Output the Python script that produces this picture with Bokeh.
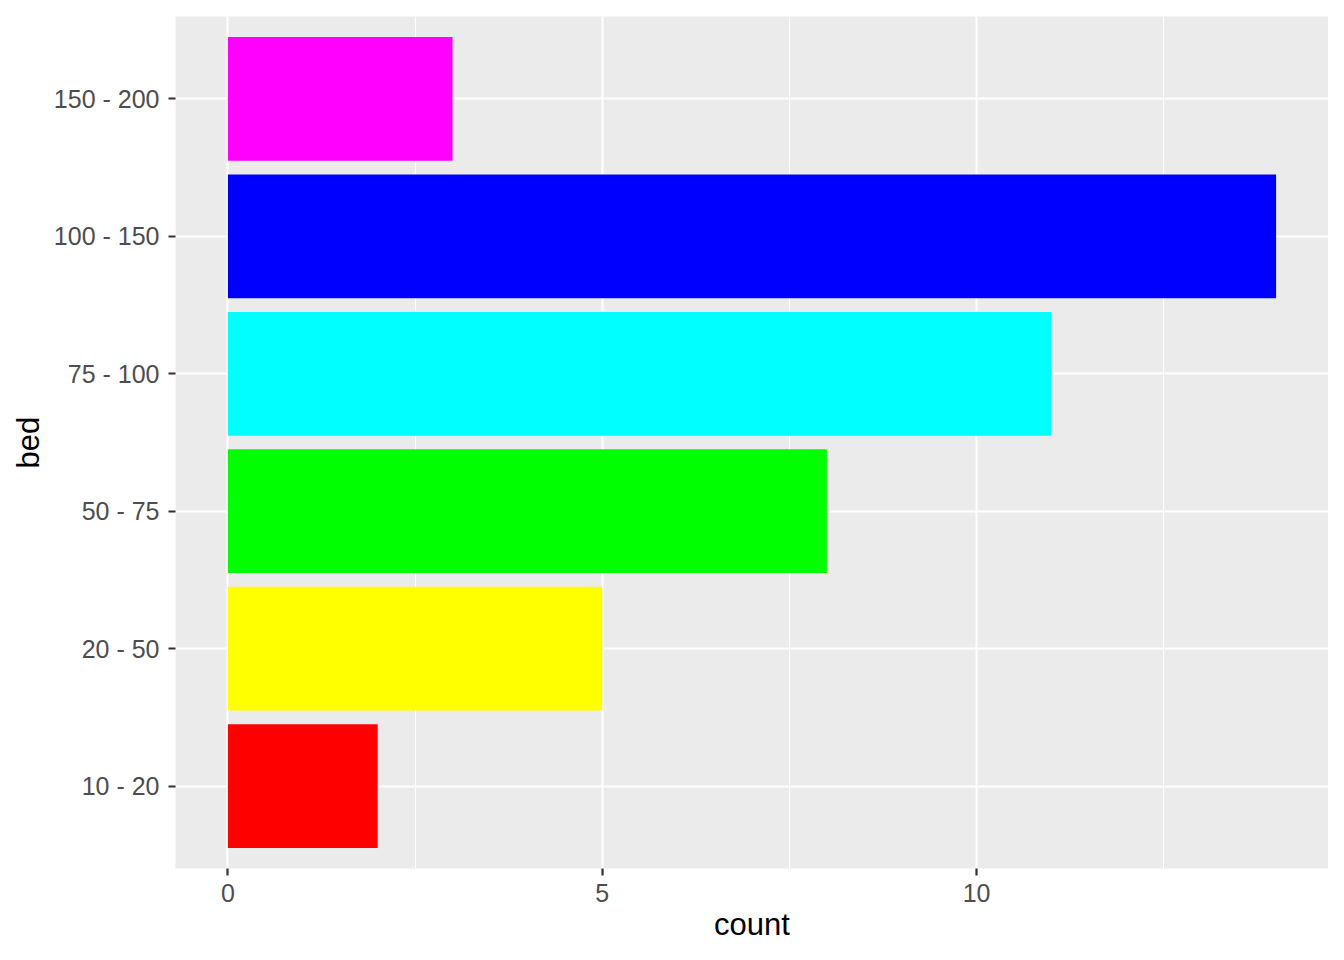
from bokeh.plotting import figure
from bokeh.models import Range1d, FixedTicker, SingleIntervalTicker, ColumnDataSource
from bokeh.embed import file_html
from bokeh.resources import INLINE

categories = ["10 - 20", "20 - 50", "50 - 75", "75 - 100", "100 - 150", "150 - 200"]
counts = [2, 5, 8, 11, 14, 3]
colors = ["#FF0000", "#FFFF00", "#00FF00", "#00FFFF", "#0000FF", "#FF00FF"]

pos = list(range(1, len(categories) + 1))
src = ColumnDataSource(dict(y=pos, right=counts, color=colors, cat=categories))

xmax = max(counts)
p = figure(width=1328, height=944, output_backend="svg", toolbar_location=None,
           x_range=Range1d(-0.05 * xmax, xmax * 1.05),
           y_range=Range1d(0.4, len(categories) + 0.6),
           min_border_left=175, min_border_right=0, min_border_top=16, min_border_bottom=76)

p.hbar(y="y", left=0, right="right", height=0.9, fill_color="color", line_color=None, source=src)

p.background_fill_color = "#EBEBEB"
p.border_fill_color = "white"
p.outline_line_color = None

p.xaxis.ticker = SingleIntervalTicker(interval=5, num_minor_ticks=2)
p.yaxis.ticker = FixedTicker(ticks=pos)
p.yaxis.major_label_overrides = {i: c for i, c in zip(pos, categories)}

for ax in (p.xaxis[0], p.yaxis[0]):
    ax.axis_line_color = None
    ax.major_tick_line_color = "#333333"
    ax.major_tick_line_width = 2.2
    ax.major_tick_out = 7
    ax.major_tick_in = 0
    ax.minor_tick_line_color = None
    ax.major_label_text_color = "#4D4D4D"
    ax.major_label_text_font = "Liberation Sans"
    ax.major_label_text_font_size = "25px"
    ax.axis_label_text_font = "Liberation Sans"
    ax.axis_label_text_font_size = "31px"
    ax.axis_label_text_font_style = "normal"
    ax.axis_label_text_color = "black"

p.xaxis.axis_label = "count"
p.yaxis.axis_label = "bed"
p.xaxis.major_label_standoff = 8
p.yaxis.major_label_standoff = 9
p.xaxis.axis_label_standoff = 2
p.yaxis.axis_label_standoff = 5

p.xgrid.grid_line_color = "white"
p.xgrid.grid_line_width = 2
p.xgrid.minor_grid_line_color = "white"
p.xgrid.minor_grid_line_width = 1
p.ygrid.grid_line_color = "white"
p.ygrid.grid_line_width = 2

open("out.html", "w").write(file_html(p, INLINE))
